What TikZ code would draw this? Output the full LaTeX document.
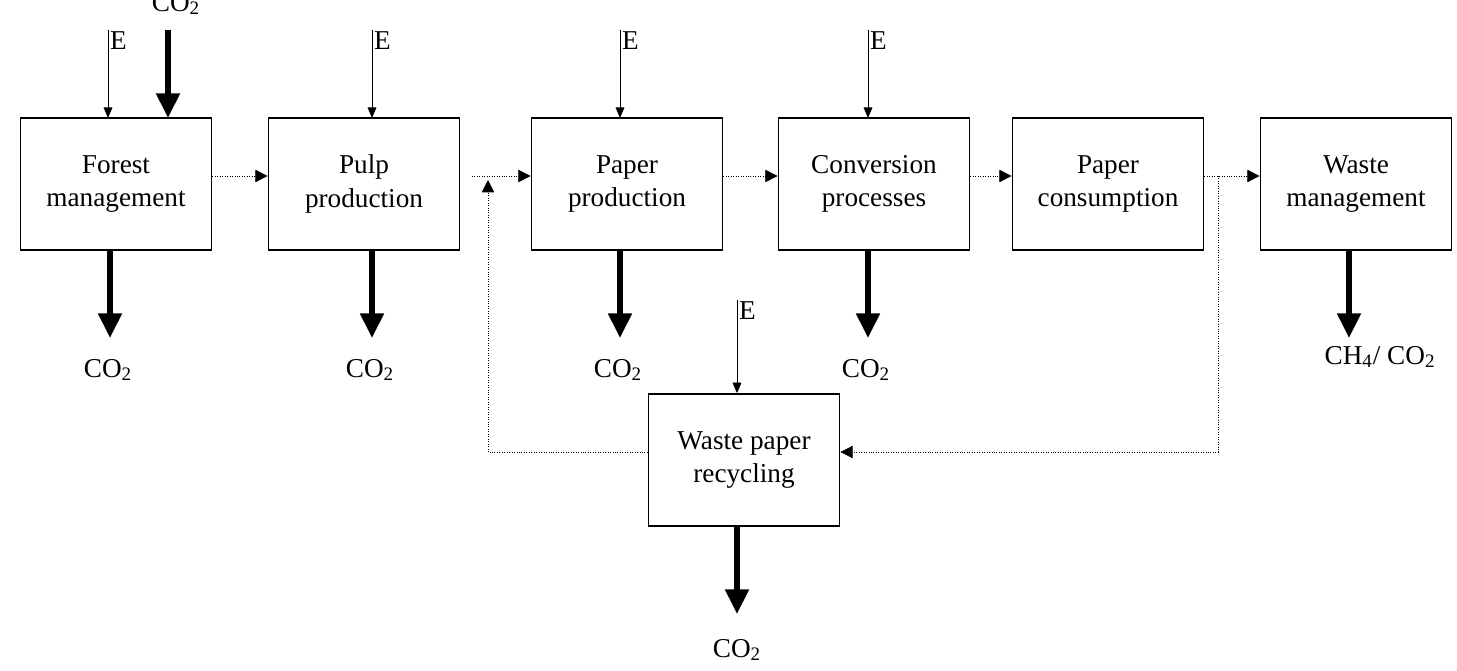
\documentclass[tikz,border=0pt]{standalone}
\usepackage{fontspec}
\setmainfont{Liberation Serif}
\usetikzlibrary{arrows.meta}
\begin{document}
\begin{tikzpicture}
  [
    x=0.02cm, y=-0.02cm,
    font=\fontsize{15.5}{19}\selectfont,
    box/.style={
       draw=black,
       line width=1pt,
       minimum width=3.82cm,
       minimum height=2.64cm,
       align=center
    },
    flow/.style={
       densely dotted,
       -{Triangle[length=7pt,width=7pt]}
    },
    ein/.style={
       ->, >={Triangle[length=6pt,width=5pt]}
    },
    fat/.style={
       line width=3pt,
       -{Triangle[length=14pt,width=13pt]}
    },
    lbl/.style={inner sep=1pt}
  ]
  \useasboundingbox (0,0) rectangle (1457,670);
  \node (forest) at ( 116,184) [box] {Forest\\management};
  \node (pulp)   at ( 364,184) [box] {Pulp\\production};
  \node (paper)  at ( 627,184) [box] {Paper\\production};
  \node (conv)   at ( 874,184) [box] {Conversion\\processes};
  \node (cons)   at (1108,184) [box] {Paper\\consumption};
  \node (waste)  at (1356,184) [box] {Waste\\management};
  \node (recyc)  at ( 744,460) [box] {Waste paper\\recycling};

  % main chain
  \draw [flow] (forest.east |- 0,176) -- (pulp.west |- 0,176);
  \draw [flow] (472,176) -- (paper.west |- 0,176);
  \draw [flow] (paper.east |- 0,176) -- (conv.west |- 0,176);
  \draw [flow] (conv.east |- 0,176) -- (cons.west |- 0,176);
  \draw [flow] (cons.east |- 0,176) -- (waste.west |- 0,176);

  % recycling loop
  \coordinate (split) at (1218,176);
  \coordinate (join)  at (488,180);
  \draw [flow] (split) |- (recyc.east |- 0,452);
  \draw [flow] (recyc.west |- 0,452) -| (join);

  % energy inputs
  \foreach \n/\x in {forest/108, pulp/372, paper/620, conv/868} {
    \coordinate (e-\n) at (\x,30);
    \draw [ein] (e-\n) -- (\x,118);
    \node [lbl, anchor=north west] at (e-\n) {E};
  }
  \coordinate (e-recyc) at (737,300);
  \draw [ein] (e-recyc) -- (recyc.north -| e-recyc);
  \node [lbl, anchor=north west] at (e-recyc) {E};

  % CO2 uptake
  \node (co2in) at (176,4) [lbl] {CO\textsubscript{2}};
  \draw [fat] (168,30) -- (168,118);

  % emissions
  \foreach \n/\x in {forest/110, pulp/372, paper/620, conv/868} {
    \node (o-\n) at (\x+-2,370) [lbl] {CO\textsubscript{2}};
    \draw [fat] (\x,250) -- (\x,338);
  }
  \node (o-waste) at (1380,357) [lbl] {CH\textsubscript{4}/ CO\textsubscript{2}};
  \draw [fat] (1349,250) -- (1349,338);
  \node (o-recyc) at (737,650) [lbl] {CO\textsubscript{2}};
  \draw [fat] (737,526) -- (737,614);
\end{tikzpicture}
\end{document}
